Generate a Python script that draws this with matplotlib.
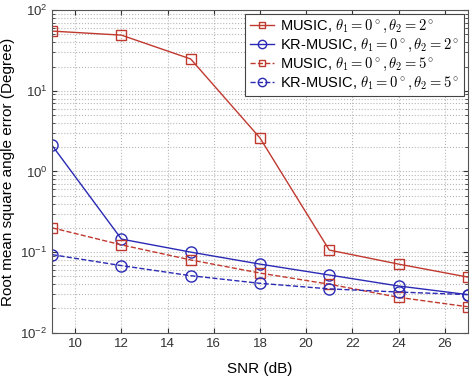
import numpy as np
import matplotlib.pyplot as plt

plt.rcParams['font.family'] = ['Liberation Sans', 'DejaVu Sans']
plt.rcParams['mathtext.fontset'] = 'cm'

snr = [9, 12, 15, 18, 21, 24, 27]
music_2 = [55, 49, 24.8, 2.6, 0.106, 0.071, 0.049]
kr_music_2 = [2.1, 0.145, 0.1, 0.071, 0.052, 0.038, 0.0297]
music_5 = [0.2, 0.123, 0.08, 0.055, 0.04, 0.0275, 0.021]
kr_music_5 = [0.093, 0.068, 0.051, 0.041, 0.035, 0.032, 0.0297]

red = '#c0392f'
blue = '#2a2ab5'

fig = plt.figure(figsize=(4.74, 3.76), dpi=100)
ax = fig.add_axes([0.11, 0.115, 0.877, 0.858])

ax.semilogy(snr, music_2, '-s', color=red, mfc='none', ms=6.5, lw=1.0,
            label=r'MUSIC, $\theta_1=0^\circ, \theta_2=2^\circ$')
ax.semilogy(snr, kr_music_2, '-o', color=blue, mfc='none', ms=8, lw=1.0,
            label=r'KR-MUSIC, $\theta_1=0^\circ, \theta_2=2^\circ$')
ax.semilogy(snr, music_5, '--s', color=red, mfc='none', ms=6.5, lw=1.0,
            label=r'MUSIC, $\theta_1=0^\circ, \theta_2=5^\circ$')
ax.semilogy(snr, kr_music_5, '--o', color=blue, mfc='none', ms=8, lw=1.0,
            label=r'KR-MUSIC, $\theta_1=0^\circ, \theta_2=5^\circ$')

ax.set_xlim(9, 27)
ax.set_ylim(1e-2, 1e2)
ax.set_xticks([10, 12, 14, 16, 18, 20, 22, 24, 26])
ax.grid(True, which='major', ls=':', color='#b8b8b8', lw=0.8)
ax.grid(True, which='minor', axis='y', ls=':', color='#b8b8b8', lw=0.8)
ax.tick_params(which='both', direction='in', top=True, right=True,
               labelsize=9.5, colors='#333333')
for s in ax.spines.values():
    s.set_color('#555555')
ax.set_xlabel('SNR (dB)', fontsize=11, labelpad=9)
ax.set_ylabel('Root mean square angle error (Degree)', fontsize=11)

leg = ax.legend(loc='upper right', fontsize=10.5, fancybox=False, framealpha=1,
                edgecolor='#444444', borderaxespad=0.25, handlelength=1.7,
                handletextpad=0.4, labelspacing=0.12, borderpad=0.3,
                markerscale=0.75)
leg.get_frame().set_linewidth(0.8)

fig.savefig('out.png', dpi=100)
